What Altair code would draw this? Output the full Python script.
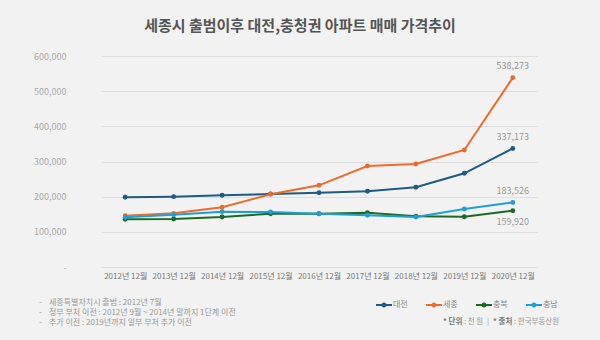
import altair as alt
import pandas as pd

# ---- data ----
years = ["2012년 12월", "2013년 12월", "2014년 12월", "2015년 12월", "2016년 12월",
         "2017년 12월", "2018년 12월", "2019년 12월", "2020년 12월"]
series = ["대전", "세종", "충북", "충남"]
colors = ["#1d5b80", "#ee6c2b", "#1b6a24", "#1e9fd6"]
daejeon = [198200, 200000, 203900, 207600, 211300, 215200, 226600, 266400, 337173]
sejong = [146000, 152600, 169700, 206700, 232300, 287200, 292900, 332700, 538273]
chungbuk = [135600, 136500, 142200, 151600, 151600, 154400, 144200, 143000, 159920]
chungnam = [141300, 148800, 157300, 156400, 151600, 147000, 142200, 165000, 183526]
y_ticks = [0, 100000, 200000, 300000, 400000, 500000, 600000]

title_text = "세종시 출범이후 대전,충청권 아파트 매매 가격추이"
notes = ["세종특별자치시 출범  : 2012년 7월",
         "정부 부처 이전 : 2012년 9월 ~ 2014년 말까지 1단계 이전",
         "추가 이전 : 2019년까지 일부 부처 추가 이전"]
unit_label, unit_text = "* 단위", ": 천 원"
src_label, src_text = "* 출처", ": 한국부동산원"

FONT = "Noto Sans CJK KR"

rows = []
for name, vals in zip(series, [daejeon, sejong, chungbuk, chungnam]):
    for yr, v in zip(years, vals):
        rows.append({"year": yr, "series": name, "value": v})
df = pd.DataFrame(rows)
last = years[-1]

x_enc = alt.X("year:N", sort=years, scale=alt.Scale(type="point", range=[27, 463]),
              axis=alt.Axis(title=None, labelAngle=0, labelFontSize=8, labelColor="#777",
                            labelFont=FONT, labelPadding=5, ticks=False, domain=False, grid=False))
y_enc = alt.Y("value:Q", scale=alt.Scale(domain=[0, 600000], nice=False),
              axis=alt.Axis(title=None, values=y_ticks,
                            labelExpr="datum.value === 0 ? '-' : format(datum.value, ',')",
                            labelFontSize=9, labelColor="#aaa", labelFont=FONT,
                            labelPadding=8, ticks=False, domain=False,
                            grid=True, gridColor="#dedede", gridWidth=1))

sym_path = ("M-1,-0.13 L1,-0.13 L1,0.13 L-1,0.13 Z "
            "M-0.32,0 A0.32,0.32 0 1,1 0.32,0 A0.32,0.32 0 1,1 -0.32,0 Z")
legend = alt.Legend(title=None, orient="none", legendX=302, legendY=241,
                    direction="horizontal", symbolType=sym_path,
                    symbolSize=256, labelFontSize=8, labelColor="#888",
                    labelFont=FONT, labelOffset=1, columnPadding=18,
                    padding=0, symbolStrokeWidth=0)
color_enc = alt.Color("series:N", scale=alt.Scale(domain=series, range=colors), legend=legend)

base = alt.Chart(df)

lines = base.mark_line(strokeWidth=2).encode(
    x=x_enc, y=y_enc, color=color_enc, order=alt.Order("year:N"),
)
points = base.mark_point(filled=True, size=24, opacity=1).encode(
    x=x_enc, y=y_enc, color=color_enc,
)
end_above = base.mark_text(fontSize=9, color="#999", font=FONT, dy=-11.5).encode(
    x=x_enc, y=y_enc, text=alt.Text("value:Q", format=",")
).transform_filter(
    (alt.datum.year == last) & (alt.datum.series != "충북")
)
end_below = base.mark_text(fontSize=9, color="#999", font=FONT, dy=11.5).encode(
    x=x_enc, y=y_enc, text=alt.Text("value:Q", format=",")
).transform_filter(
    (alt.datum.year == last) & (alt.datum.series == "충북")
)

one = pd.DataFrame({"k": [0]})


def label(text, x, y, size, color, weight="normal", align="left"):
    return alt.Chart(one).mark_text(text=text, fontSize=size, fontWeight=weight,
                                    color=color, font=FONT, align=align,
                                    baseline="middle").encode(
        x=alt.value(x), y=alt.value(y))


title = label(title_text, 226, -30, 15, "#555", "bold", "center")
note_layers = []
for i, line in enumerate(notes):
    yy = 247 + i * 10
    note_layers.append(label("-", -35, yy, 8, "#999"))
    note_layers.append(label(line, -25, yy, 8, "#999"))

foot = [
    label(unit_label, 369, 266, 7.5, "#777", "bold"),
    label(unit_text, 390, 266, 7.5, "#999"),
    label("|", 413, 266, 7.5, "#999"),
    label(src_label, 419, 266, 7.5, "#777", "bold"),
    label(src_text, 440, 266, 7.5, "#999"),
]

chart = alt.layer(
    lines, points, end_above, end_below, title, *note_layers, *foot
).properties(
    width=492, height=211,
    autosize=alt.AutoSizeParams(type="none"),
    padding={"left": 74, "top": 56, "right": 34, "bottom": 73},
    background="#f2f2f2",
).configure_view(stroke=None)

chart.save("out.html", embed_options={"renderer": "svg", "actions": False})
